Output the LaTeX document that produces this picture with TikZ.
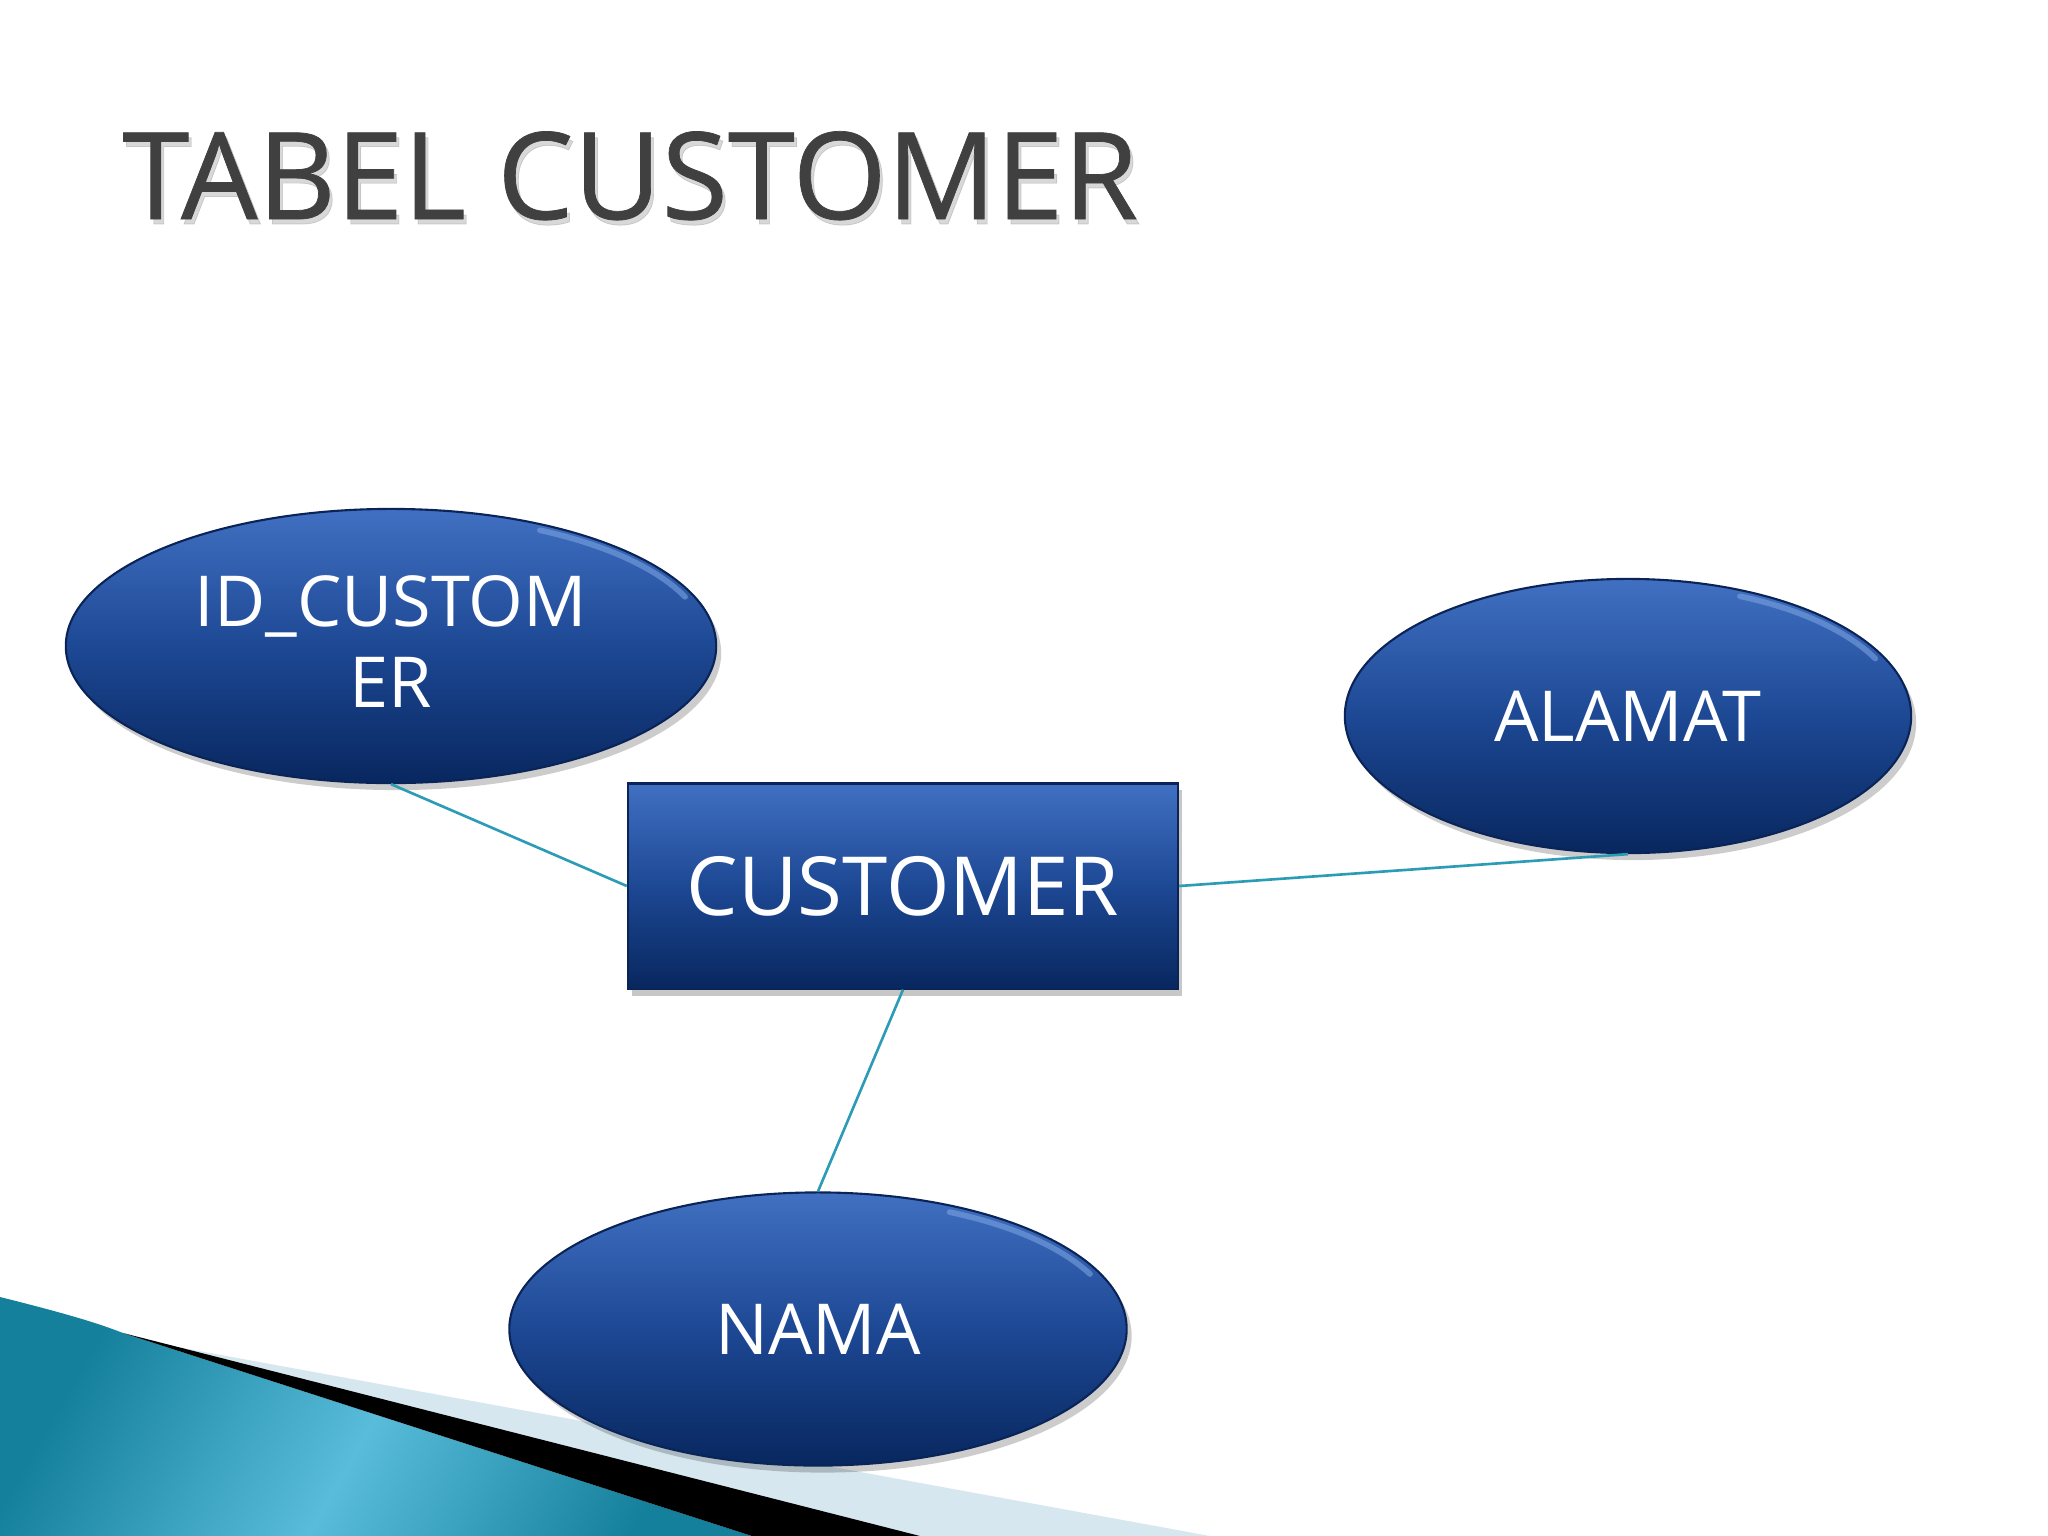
\documentclass[tikz,border=0pt]{standalone}
\usepackage{fontspec}
\setmainfont{Open Sans}
\newfontfamily\titlefont[FakeBold=0.6]{Open Sans}
\usetikzlibrary{shapes.geometric,shadows}
\definecolor{titlegray}{HTML}{404040}
\definecolor{eltop}{HTML}{4170C2}
\definecolor{elmid}{HTML}{1D4894}
\definecolor{elbot}{HTML}{08275F}
\definecolor{elborder}{HTML}{0A2458}
\definecolor{rimlight}{HTML}{7AA2E0}
\definecolor{conncol}{HTML}{2C9CB6}
\definecolor{tealdark}{HTML}{15809C}
\definecolor{teallight}{HTML}{58BCDA}
\definecolor{lightband}{HTML}{D7E7EF}
\tikzset{
  attr/.style={ellipse, inner sep=0pt, draw=elborder, line width=0.6pt,
    top color=eltop, bottom color=elbot, middle color=elmid,
    text=white, align=center, font=\fontsize{20}{22.5}\selectfont,
    drop shadow={shadow xshift=0.05cm, shadow yshift=-0.07cm, opacity=0.2, fill=black}},
  entity/.style={rectangle, inner sep=0pt, draw=elborder, line width=0.6pt,
    top color=eltop, bottom color=elbot, middle color=elmid,
    text=white, font=\fontsize{23.2}{27}\selectfont,
    minimum width=5.5cm, minimum height=2.05cm,
    drop shadow={shadow xshift=0.04cm, shadow yshift=-0.07cm, opacity=0.22, fill=black}},
  conn/.style={draw=conncol, line width=0.75pt},
  rim/.style={draw=rimlight, line width=1.6pt, opacity=0.6, line cap=round},
  titlestyle/.style={anchor=base west, font=\titlefont\fontsize{34.4}{40}\selectfont}
}
\begin{document}
\begin{tikzpicture}[x=0.01cm, y=-0.01cm]
\useasboundingbox (0,0) rectangle (2048,1536);
\fill[white] (0,0) rectangle (2048,1536);

% bottom-left decoration
\fill[lightband] (150,1342) -- (1210,1536) -- (900,1536) -- cycle;
\shade[left color=tealdark, right color=tealdark, middle color=teallight, shading angle=60]
  (0,1297) .. controls (60,1312) and (95,1322) .. (123,1333) -- (752,1536) -- (0,1536) -- cycle;
\fill[black] (123,1333) -- (920,1536) -- (752,1536) -- cycle;

% title
\node[titlestyle, text=gray, opacity=0.3] (titleshadow) at (113,224) {TABEL CUSTOMER};
\node[titlestyle, text=titlegray] (title) at (110,219) {TABEL CUSTOMER};

% nodes
\node[attr, minimum width=6.5cm, minimum height=2.74cm] (id) at (391,646) {\raisebox{-0.052cm}[\height][\depth]{\begin{tabular}{@{}c@{}}ID\_CUSTOM\\[0.6pt]ER\end{tabular}}};
\node[attr, minimum width=5.66cm, minimum height=2.74cm] (alamat) at (1628,716) {ALAMAT};
\node[attr, minimum width=6.17cm, minimum height=2.73cm] (nama) at (818,1329) {NAMA};
\node[entity] (cust) at (903,886) {CUSTOMER};

% rim highlights
\draw[rim] (id.center) ++(62:3.17cm and 1.31cm) arc[start angle=62, end angle=22, x radius=3.17cm, y radius=1.31cm];
\draw[rim] (alamat.center) ++(66:2.75cm and 1.31cm) arc[start angle=66, end angle=26, x radius=2.75cm, y radius=1.31cm];
\draw[rim] (nama.center) ++(64:3.0cm and 1.30cm) arc[start angle=64, end angle=25, x radius=3.0cm, y radius=1.30cm];

% connectors
\draw[conn] (cust.west) -- (id.south);
\draw[conn] (cust.east) -- (alamat.south);
\draw[conn] (cust.south) -- (nama.north);
\end{tikzpicture}
\end{document}
